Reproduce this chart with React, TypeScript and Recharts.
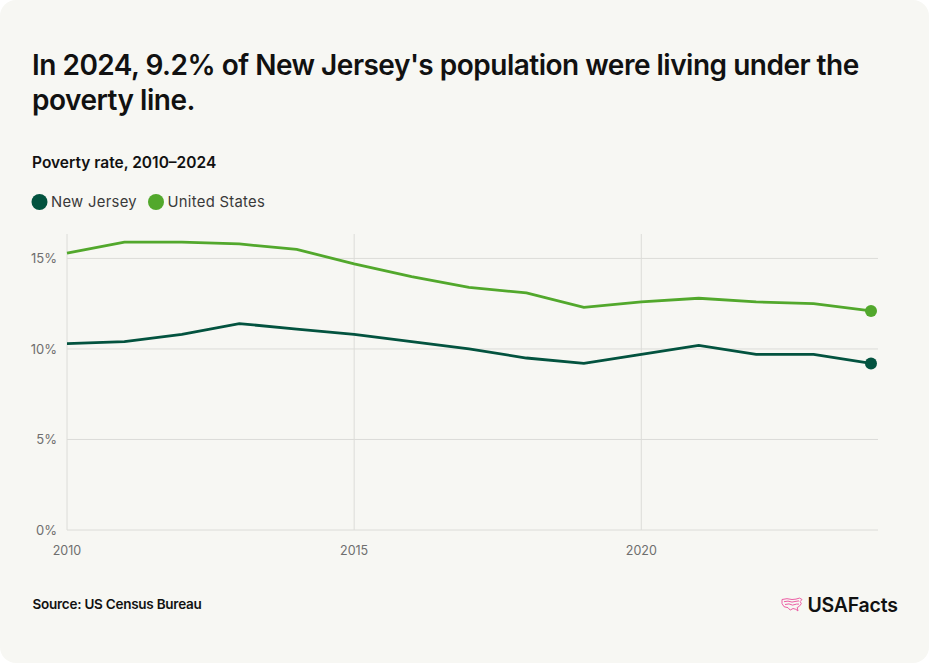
import React from "react";
import { LineChart, Line, XAxis, YAxis, CartesianGrid } from "recharts";

// Poverty rate by year, percent
const years = [2010, 2011, 2012, 2013, 2014, 2015, 2016, 2017, 2018, 2019, 2020, 2021, 2022, 2023, 2024];
const newJerseyRate = [10.3, 10.4, 10.8, 11.4, 11.1, 10.8, 10.4, 10.0, 9.5, 9.2, 9.7, 10.2, 9.7, 9.7, 9.2];
const unitedStatesRate = [15.3, 15.9, 15.9, 15.8, 15.5, 14.7, 14.0, 13.4, 13.1, 12.3, 12.6, 12.8, 12.6, 12.5, 12.1];

const xTicks = [2010, 2015, 2020];
const yTicks = [0, 5, 10, 15];

const seriesList = [
  { key: "nj", name: "New Jersey", color: "#03533f", values: newJerseyRate },
  { key: "us", name: "United States", color: "#52a82c", values: unitedStatesRate },
];

const rows = years.map((year, i) => {
  const row: Record<string, number> = { year };
  seriesList.forEach((s) => {
    row[s.key] = s.values[i];
  });
  return row;
});

const FONT = "Inter, 'Noto Sans', sans-serif";
const W = 929;
const H = 663;

const lastIndex = years.length - 1;

function endDot(color: string) {
  return (props: any) => {
    const { cx, cy, index } = props;
    if (index !== lastIndex) return <g key={`d-${index}`} />;
    return <circle key={`d-${index}`} cx={cx} cy={cy} r={6} fill={color} />;
  };
}

// Grid lines only at the labelled ticks, placed through each axis scale
function axisScale(axis: any) {
  const s = axis?.scale;
  return typeof s === "function" ? s : s?.map ? (v: number) => s.map(v) : null;
}

function horizontalLines(props: any) {
  const scale = axisScale(props.yAxis);
  return scale ? yTicks.map((t) => scale(t)) : [];
}

function verticalLines(props: any) {
  const scale = axisScale(props.xAxis);
  return scale ? xTicks.map((t) => scale(t)) : [];
}

function UsaFactsMark() {
  return (
    <g transform="translate(781,597.5)" fill="none" stroke="#ec5ea4" strokeWidth={1} strokeLinejoin="round">
      <path d="M1,2 L6,1.2 L11,2 L15,1.6 L18.5,0.6 L21,2 L19.2,4 L20.3,6.2 L18.3,8.8 L16.2,10 L17,13.5 L14.8,11.8 L12,11 L9.2,12.6 L7,10.2 L3,9.2 L1,6 Z" />
      <path d="M3,4.2 L7,3.6 L11,4.6 L15,3.8 L18,3.4" />
      <path d="M4,7 L8,6.4 L11.5,7.6 L15.5,6.6 L18,6.6" />
    </g>
  );
}

export default function App() {
  return (
    <div
      style={{
        position: "absolute",
        left: 0,
        top: 0,
        width: W,
        height: H,
        background: "#f7f7f3",
        borderRadius: 16,
        overflow: "hidden",
      }}
    >
      <div style={{ position: "absolute", left: 0, top: 0 }}>
        <LineChart width={W} height={H} data={rows} margin={{ top: 234, right: 51, bottom: 103, left: 0 }}>
          <CartesianGrid
            stroke="#dcdcd8"
            strokeWidth={1}
            horizontalCoordinatesGenerator={horizontalLines}
            verticalCoordinatesGenerator={verticalLines}
          />
          <XAxis
            dataKey="year"
            type="number"
            domain={[2010, 2024]}
            ticks={xTicks}
            padding={{ left: 0, right: 7 }}
            axisLine={false}
            tickLine={false}
            height={30}
            tickMargin={10}
            tick={{ fontFamily: FONT, fontSize: 12.5, fill: "#6e6e6e" }}
          />
          <YAxis
            type="number"
            domain={[0, 16.35]}
            ticks={yTicks}
            width={67}
            axisLine={false}
            tickLine={false}
            tickMargin={4}
            tickFormatter={(v: number) => `${v}%`}
            tick={{ fontFamily: FONT, fontSize: 13, fill: "#6e6e6e" }}
          />
          {seriesList.map((s) => (
            <Line
              key={s.key}
              dataKey={s.key}
              name={s.name}
              type="linear"
              stroke={s.color}
              strokeWidth={2.8}
              dot={endDot(s.color)}
              activeDot={false}
              isAnimationActive={false}
            />
          ))}
        </LineChart>
      </div>
      <svg
        width={W}
        height={H}
        style={{ position: "absolute", left: 0, top: 0, pointerEvents: "none" }}
        fontFamily={FONT}
      >
        <text x={32} y={75} fontSize={28} fontWeight={600} fill="#111111" letterSpacing={-0.5}>
          In 2024, 9.2% of New Jersey's population were living under the
        </text>
        <text x={32} y={110} fontSize={28} fontWeight={600} fill="#111111" letterSpacing={-0.5}>
          poverty line.
        </text>
        <text x={32} y={168} fontSize={15.5} fontWeight={600} fill="#111111">
          Poverty rate, 2010–2024
        </text>
        {(() => {
          const offsets = [39.5, 156];
          return seriesList.map((s, i) => {
            const cx = offsets[i];
            return (
              <g key={s.key}>
                <circle cx={cx} cy={202} r={8} fill={s.color} />
                <text x={cx + 11.5} y={207} fontSize={14.8} fill="#3a3a3a" letterSpacing={0.3}>
                  {s.name}
                </text>
              </g>
            );
          });
        })()}
        <text x={32.5} y={609} fontSize={13.5} fontWeight={600} fill="#111111" letterSpacing={-0.25}>
          Source: US Census Bureau
        </text>
        <UsaFactsMark />
        <text x={807.5} y={612} fontSize={19.5} fontWeight={600} fill="#111111" letterSpacing={-0.25}>
          USAFacts
        </text>
      </svg>
    </div>
  );
}
